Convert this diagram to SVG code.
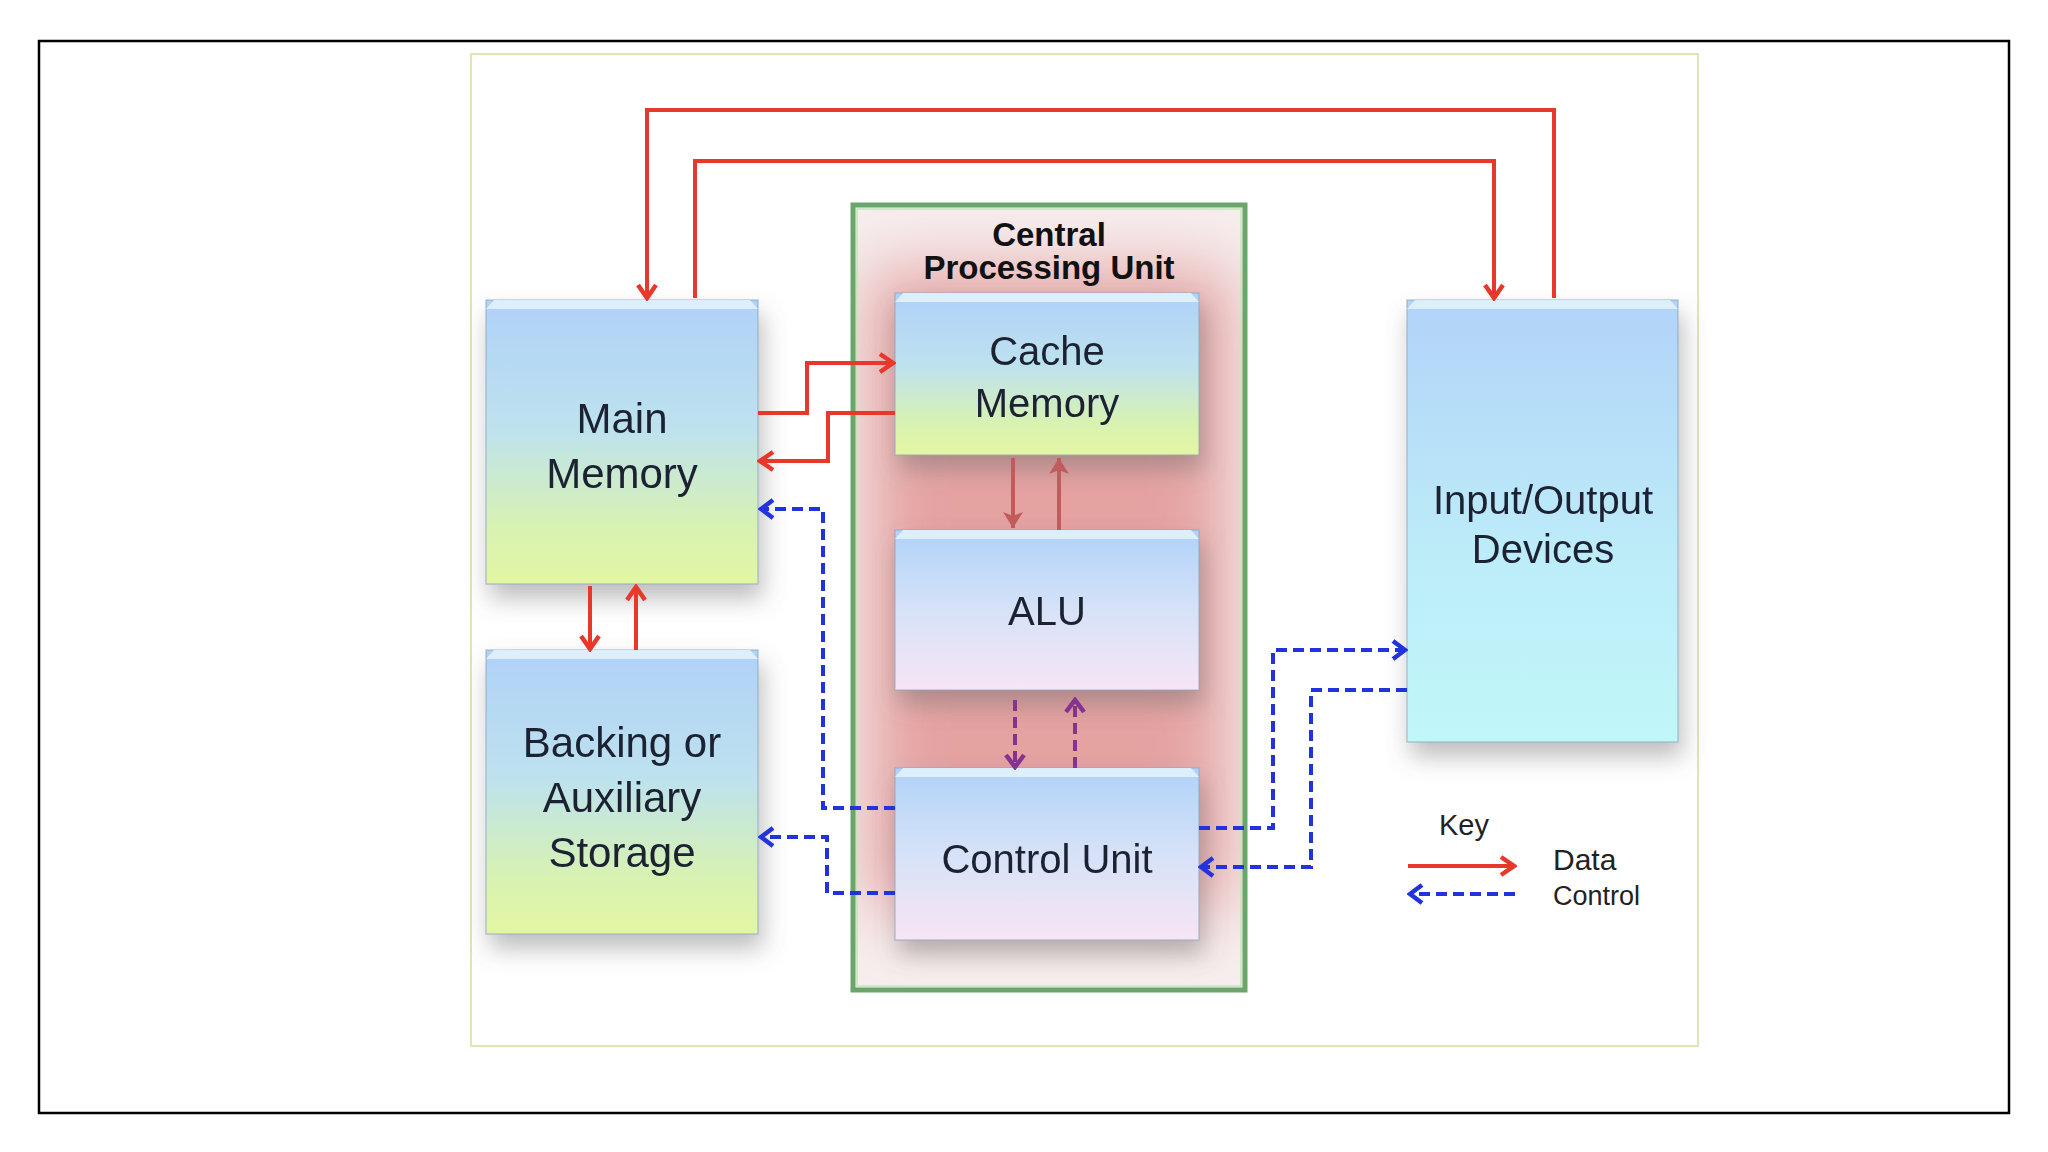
<svg xmlns="http://www.w3.org/2000/svg" width="2048" height="1152" viewBox="0 0 2048 1152">
<defs>
<style>
.lbl{font-family:"Liberation Sans",Arial,sans-serif;font-size:42px;fill:#1b2233;text-anchor:middle}
.lbl40{font-family:"Liberation Sans",Arial,sans-serif;font-size:40px;fill:#1b2233;text-anchor:middle}
.title{font-family:"Liberation Sans",Arial,sans-serif;font-size:33px;font-weight:bold;fill:#111;text-anchor:middle}
.key{font-family:"Liberation Sans",Arial,sans-serif;fill:#222}
.box{stroke:#8aa3bd;stroke-opacity:0.55;stroke-width:1.5}
.bevel{fill:#e2f2fc;opacity:0.9}
.red{fill:none;stroke:#e8382b;stroke-width:4}
.blue{fill:none;stroke:#2233dd;stroke-width:4;stroke-dasharray:11 6}
.purple{fill:none;stroke:#86338f;stroke-width:4;stroke-dasharray:11 6}
.mred{fill:none;stroke:#c25b5b;stroke-width:4}
</style>
<linearGradient id="gYel" x1="0" y1="0" x2="0" y2="1">
<stop offset="0" stop-color="#b0d1f8"/>
<stop offset="0.45" stop-color="#bde2ee"/>
<stop offset="0.8" stop-color="#d8f2b2"/>
<stop offset="1" stop-color="#e3f6a2"/>
</linearGradient>
<linearGradient id="gPink" x1="0" y1="0" x2="0" y2="1">
<stop offset="0" stop-color="#b0d2f8"/>
<stop offset="0.5" stop-color="#d6e2f8"/>
<stop offset="1" stop-color="#f7e5f4"/>
</linearGradient>
<linearGradient id="gCyan" x1="0" y1="0" x2="0" y2="1">
<stop offset="0" stop-color="#b2d3f8"/>
<stop offset="0.6" stop-color="#bdedf9"/>
<stop offset="1" stop-color="#c0f7f9"/>
</linearGradient>
<filter id="shadow" x="-30%" y="-30%" width="160%" height="170%">
<feDropShadow dx="4" dy="14" stdDeviation="12" flood-color="#6a6a6a" flood-opacity="0.45"/>
</filter>
<filter id="glow" x="-30%" y="-30%" width="160%" height="160%">
<feGaussianBlur stdDeviation="34"/>
</filter>
<clipPath id="cpuClip"><rect x="855" y="207" width="388" height="781"/></clipPath>
<marker id="aRed" viewBox="0 0 24 24" refX="21" refY="12" markerWidth="24" markerHeight="24" markerUnits="userSpaceOnUse" orient="auto">
<path d="M8,3 L21,12 L8,21" fill="none" stroke="#e8382b" stroke-width="4.5"/>
</marker>
<marker id="aBlue" viewBox="0 0 24 24" refX="21" refY="12" markerWidth="24" markerHeight="24" markerUnits="userSpaceOnUse" orient="auto">
<path d="M9,3 L21,12 L9,21" fill="none" stroke="#2233dd" stroke-width="4.5"/>
</marker>
<marker id="aPurple" viewBox="0 0 24 24" refX="21" refY="12" markerWidth="24" markerHeight="24" markerUnits="userSpaceOnUse" orient="auto">
<path d="M9,3 L21,12 L9,21" fill="none" stroke="#86338f" stroke-width="4.5"/>
</marker>
<marker id="aMred" viewBox="0 0 24 24" refX="22" refY="12" markerWidth="24" markerHeight="24" markerUnits="userSpaceOnUse" orient="auto">
<path d="M6,2 L22,12 L6,22 L10,12 Z" fill="#c25b5b"/>
</marker>
</defs>

<rect x="0" y="0" width="2048" height="1152" fill="#ffffff"/>
<rect x="39" y="41" width="1970" height="1072" fill="#ffffff" stroke="#000" stroke-width="2.5"/>
<rect x="471" y="54" width="1227" height="992" fill="#ffffff" stroke="#dde7b4" stroke-width="2"/>

<g id="cpu">
<g clip-path="url(#cpuClip)">
<rect x="855" y="207" width="388" height="781" fill="#f6eeee"/>
<rect x="868" y="270" width="362" height="640" fill="#de8584" opacity="0.72" filter="url(#glow)"/>
</g>
<rect x="853" y="205" width="392" height="785" fill="none" stroke="#6aa66a" stroke-width="5"/>
<rect x="857" y="209" width="384" height="777" fill="none" stroke="#c4e6bc" stroke-width="1.5"/>
<text class="title" x="1049" y="246">Central</text>
<text class="title" x="1049" y="279">Processing Unit</text>
</g>

<g id="main-memory" filter="url(#shadow)">
<rect class="box" x="486" y="300" width="272" height="284" fill="url(#gYel)"/>
<polygon class="bevel" points="486,309 494,300 750,300 758,309"/>
<text class="lbl" x="622" y="433">Main</text>
<text class="lbl" x="622" y="488">Memory</text>
</g>

<g id="backing-storage" filter="url(#shadow)">
<rect class="box" x="486" y="650" width="272" height="284" fill="url(#gYel)"/>
<polygon class="bevel" points="486,659 494,650 750,650 758,659"/>
<text class="lbl" x="622" y="757">Backing or</text>
<text class="lbl" x="622" y="812">Auxiliary</text>
<text class="lbl" x="622" y="867">Storage</text>
</g>

<g id="cache-memory" filter="url(#shadow)">
<rect class="box" x="895" y="293" width="304" height="162" fill="url(#gYel)"/>
<polygon class="bevel" points="895,302 903,293 1191,293 1199,302"/>
<text class="lbl40" x="1047" y="365">Cache</text>
<text class="lbl40" x="1047" y="417">Memory</text>
</g>

<g id="alu" filter="url(#shadow)">
<rect class="box" x="895" y="530" width="304" height="160" fill="url(#gPink)"/>
<polygon class="bevel" points="895,539 903,530 1191,530 1199,539"/>
<text class="lbl40" x="1047" y="625">ALU</text>
</g>

<g id="control-unit" filter="url(#shadow)">
<rect class="box" x="895" y="768" width="304" height="172" fill="url(#gPink)"/>
<polygon class="bevel" points="895,777 903,768 1191,768 1199,777"/>
<text class="lbl40" x="1047" y="873">Control Unit</text>
</g>

<g id="io-devices" filter="url(#shadow)">
<rect class="box" x="1407" y="300" width="271" height="442" fill="url(#gCyan)"/>
<polygon class="bevel" points="1407,309 1415,300 1670,300 1678,309"/>
<text class="lbl40" x="1543" y="514">Input/Output</text>
<text class="lbl40" x="1543" y="563">Devices</text>
</g>

<g id="connectors">
<path class="red" d="M1554,298 V110 H647 V298" marker-end="url(#aRed)"/>
<path class="red" d="M695,298 V161 H1494 V298" marker-end="url(#aRed)"/>
<path class="red" d="M758,413 H807 V363 H893" marker-end="url(#aRed)"/>
<path class="red" d="M895,413 H828 V461 H760" marker-end="url(#aRed)"/>
<path class="red" d="M590,586 V649" marker-end="url(#aRed)"/>
<path class="red" d="M636,650 V587" marker-end="url(#aRed)"/>
<path class="mred" d="M1013,458 V528" marker-end="url(#aMred)"/>
<path class="mred" d="M1059,530 V458" marker-end="url(#aMred)"/>
<path class="purple" d="M1015,700 V767" marker-end="url(#aPurple)"/>
<path class="purple" d="M1075,768 V700" marker-end="url(#aPurple)"/>
<path class="blue" d="M895,808 H823 V509 H761" marker-end="url(#aBlue)"/>
<path class="blue" d="M895,893 H827 V837 H761" marker-end="url(#aBlue)"/>
<path class="blue" d="M1199,828 H1273 V650 H1405" marker-end="url(#aBlue)"/>
<path class="blue" d="M1407,690 H1311 V867 H1201" marker-end="url(#aBlue)"/>
</g>

<g id="key">
<text class="key" x="1464" y="835" font-size="29" text-anchor="middle">Key</text>
<path class="red" d="M1408,866 H1514" marker-end="url(#aRed)"/>
<path class="blue" d="M1515,894 H1410" marker-end="url(#aBlue)"/>
<text class="key" x="1553" y="870" font-size="30">Data</text>
<text class="key" x="1553" y="905" font-size="27">Control</text>
</g>
</svg>
